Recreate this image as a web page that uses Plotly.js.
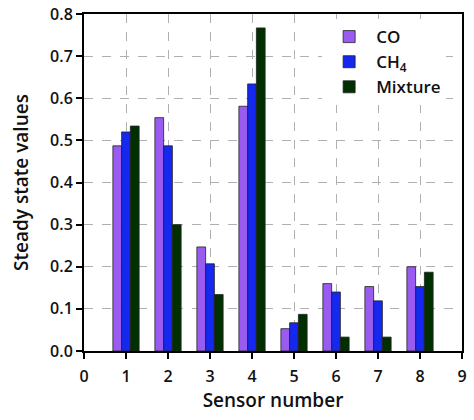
<!DOCTYPE html>
<html>
<head>
<meta charset="utf-8">
<script src="https://cdn.plot.ly/plotly-3.0.1.min.js"></script>
<style>
  html, body { margin: 0; padding: 0; background: #fff; }
  #chart { width: 474px; height: 420px; }
</style>
</head>
<body>
<div id="chart"></div>
<script>
const sensors = [1, 2, 3, 4, 5, 6, 7, 8];
const coValues = [0.487, 0.554, 0.247, 0.581, 0.053, 0.160, 0.153, 0.200];
const ch4Values = [0.520, 0.487, 0.207, 0.634, 0.067, 0.140, 0.119, 0.153];
const mixtureValues = [0.534, 0.300, 0.134, 0.767, 0.087, 0.033, 0.033, 0.187];
const seriesNames = ['CO', 'CH<sub>4</sub>', 'Mixture'];

function barTrace(name, values, color) {
  return {
    x: sensors,
    y: values,
    name: name,
    type: 'bar',
    marker: { color: color, line: { color: '#222222', width: 0.8 } }
  };
}

const data = [
  barTrace(seriesNames[0], coValues, '#9a5cf0'),
  barTrace(seriesNames[1], ch4Values, '#1428f0'),
  barTrace(seriesNames[2], mixtureValues, '#003000')
];

const tickFont = { family: 'Open Sans, sans-serif', size: 16, color: '#111', weight: 600 };
const titleFont = { family: 'Open Sans, sans-serif', size: 19, color: '#111', weight: 600 };

const layout = {
  width: 474,
  height: 420,
  margin: { l: 84, r: 12, t: 14, b: 69 },
  paper_bgcolor: '#fff',
  plot_bgcolor: '#fff',
  barmode: 'group',
  bargap: 0.375,
  bargroupgap: 0,
  font: tickFont,
  xaxis: {
    range: [0, 9],
    dtick: 1,
    tick0: 0,
    showline: true,
    linecolor: '#000',
    linewidth: 2,
    mirror: true,
    ticks: 'outside',
    ticklen: 6,
    tickwidth: 2,
    tickcolor: '#000',
    ticklabelstandoff: 4,
    showgrid: true,
    gridcolor: '#b0b0b0',
    griddash: 'dash',
    gridwidth: 1,
    zeroline: false,
    tickfont: tickFont,
    title: { text: 'Sensor number', font: titleFont, standoff: 4 }
  },
  yaxis: {
    range: [0, 0.8],
    dtick: 0.1,
    tickformat: '.1f',
    showline: true,
    linecolor: '#000',
    linewidth: 2,
    mirror: true,
    ticks: 'outside',
    ticklen: 6,
    tickwidth: 2,
    tickcolor: '#000',
    showgrid: true,
    gridcolor: '#b0b0b0',
    griddash: 'dash',
    gridwidth: 1,
    zeroline: false,
    tickfont: tickFont,
    title: { text: 'Steady state values', font: titleFont, standoff: 16 }
  },
  legend: {
    x: 0.63,
    y: 0.985,
    xanchor: 'left',
    yanchor: 'top',
    bgcolor: '#fff',
    borderwidth: 0,
    font: { family: 'Open Sans, sans-serif', size: 17, color: '#111', weight: 600 },
    itemwidth: 44,
    tracegroupgap: 0
  },
  showlegend: true
};

Plotly.newPlot('chart', data, layout, { displayModeBar: false, staticPlot: true });
</script>
</body>
</html>
